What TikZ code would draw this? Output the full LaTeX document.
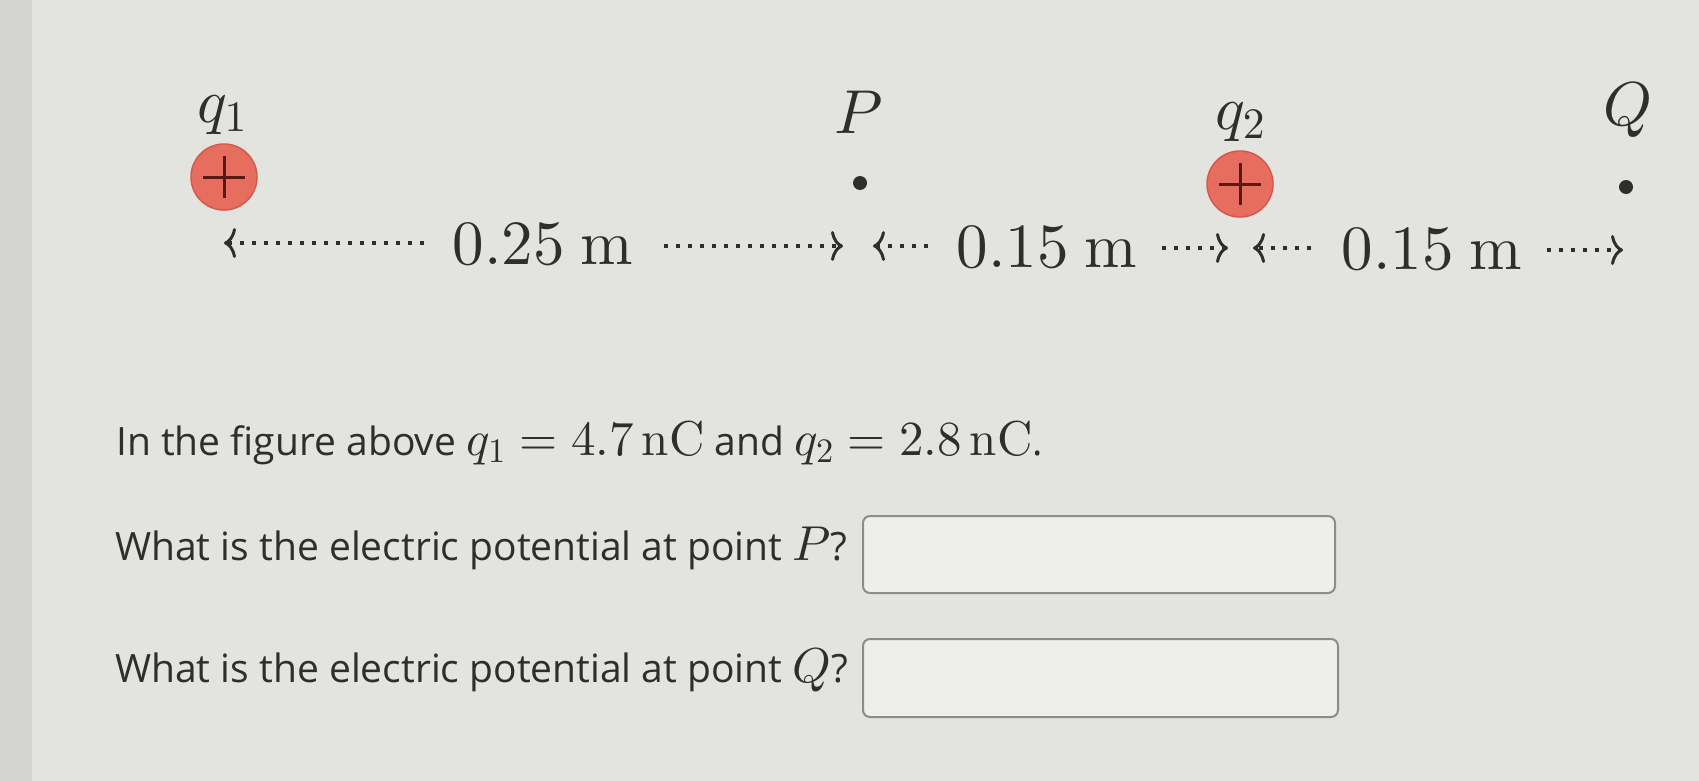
\documentclass[tikz,border=0pt]{standalone}
\usepackage[no-math]{fontspec}
\setmainfont{Open Sans}
\DeclareFontShape{OT1}{cmr}{m}{n}{<->cmr10}{}
\DeclareFontShape{OML}{cmm}{m}{it}{<->cmmi10}{}
\DeclareFontShape{OMS}{cmsy}{m}{n}{<->cmsy10}{}
\DeclareFontShape{OMX}{cmex}{m}{n}{<->cmex10}{}
\usetikzlibrary{arrows.meta,calc}
\newcommand{\mymath}[1]{{\fontsize{49}{50}\selectfont$#1$}}
\definecolor{bg}{HTML}{E3E3E0}
\definecolor{bgedge}{HTML}{D4D4D1}
\definecolor{chargefill}{HTML}{E76E5F}
\definecolor{chargeedge}{HTML}{D45A4C}
\definecolor{plusline}{HTML}{5A1A14}
\definecolor{ink}{HTML}{2E2E2E}
\definecolor{boxline}{HTML}{8C8C8A}
\tikzset{
  lbl/.style={inner sep=0pt, text=ink, font=\fontsize{62}{68}\selectfont},
  dimlbl/.style={inner sep=0pt, text=ink, font=\fontsize{63}{68}\selectfont},
  charge/.style={circle, minimum size=66pt, inner sep=0pt, fill=chargefill, draw=chargeedge, line width=1.5pt},
  ptdot/.style={circle, fill=ink, minimum size=14pt, inner sep=0pt},
  dimarr/.style={draw=ink, line width=3.5pt, dash pattern=on 4.5pt off 7.5pt,
     -{Computer Modern Rightarrow[length=12pt,width=30pt,line width=3pt]}},
  bodytxt/.style={inner sep=0pt, anchor=base west, text=ink, font=\fontsize{39}{46}\selectfont},
  ansbox/.style={draw=boxline, line width=2pt, rounded corners=7pt, fill=bg!60!white}
}
\begin{document}
\begin{tikzpicture}[x=1pt,y=-1pt]
\useasboundingbox (0,0) rectangle (1699,781);
\fill[bg] (0,0) rectangle (1699,781);
\fill[bgedge] (0,0) rectangle (32,781);

% labels
\node[lbl] (lq1) at (222,115) {$q_1$};
\node[lbl] (lP) at (859,112) {$P$};
\node[lbl] (lq2) at (1240,122) {$q_2$};
\node[lbl] (lQ) at (1628,110) {$Q$};

% charges
\node[charge] (c1) at (224,177) {};
\node[charge] (c2) at (1240,184) {};
\draw[plusline, line width=3pt] ($(c1)+(-21,0)$) -- ($(c1)+(21,0)$) ($(c1)+(0,-21)$) -- ($(c1)+(0,21)$);
\draw[plusline, line width=3pt] ($(c2)+(-21,0)$) -- ($(c2)+(21,0)$) ($(c2)+(0,-21)$) -- ($(c2)+(0,21)$);

% points
\node[ptdot] (dP) at (860,183) {};
\node[ptdot] (dQ) at (1626,187) {};

% dimension row
\coordinate (a1) at (224,243);
\coordinate (a2) at (843,246);
\coordinate (a3) at (873,246);
\coordinate (a4) at (1228,248);
\coordinate (a5) at (1253,248);
\coordinate (a6) at (1623,250);
\node[dimlbl] (d1) at (543,244) {$0.25\ \mathrm{m}$};
\node[dimlbl] (d2) at (1047,247) {$0.15\ \mathrm{m}$};
\node[dimlbl] (d3) at (1432,249) {$0.15\ \mathrm{m}$};
\draw[dimarr, shorten <=28pt] (d1.west |- a1) -- (a1);
\draw[dimarr, shorten <=30pt] (d1.east |- a2) -- (a2);
\draw[dimarr, shorten <=28pt] (d2.west |- a3) -- (a3);
\draw[dimarr, shorten <=24pt] (d2.east |- a4) -- (a4);
\draw[dimarr, shorten <=30pt] (d3.west |- a5) -- (a5);
\draw[dimarr, shorten <=24pt] (d3.east |- a6) -- (a6);

% text
\node[bodytxt] (t1) at (116,455) {In the figure above \mymath{q_1 = 4.7\,\mathrm{nC}} and \mymath{q_2 = 2.8\,\mathrm{nC}}.};
\node[bodytxt] (t2) at (115,560) {What is the electric potential at point \mymath{P}?};
\node[bodytxt] (t3) at (115,682) {What is the electric potential at point \mymath{Q}?};
\node[ansbox, minimum width=472pt, minimum height=77pt, anchor=north west] (b1) at (862,515) {};
\node[ansbox, minimum width=475pt, minimum height=78pt, anchor=north west] (b2) at (862,638) {};
\end{tikzpicture}
\end{document}
